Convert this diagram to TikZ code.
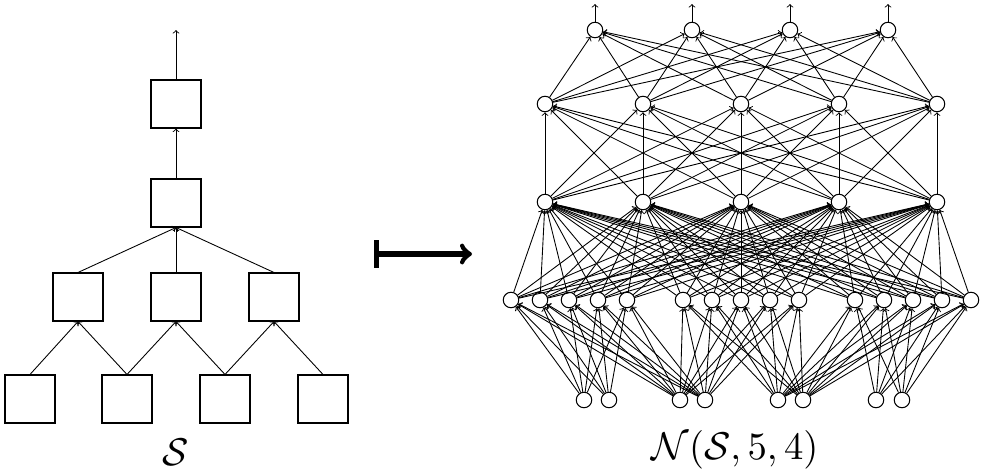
\documentclass[tikz,border=0pt]{standalone}
\usepackage{graphicx}
\begin{document}
\begin{tikzpicture}[x=0.02cm,y=-0.02cm,
  box/.style={draw,minimum width=1cm,minimum height=0.96cm,inner sep=0,line width=0.6pt},
  neu/.style={draw,circle,minimum size=0.31cm,inner sep=0,line width=0.6pt},
  edge/.style={->,>=to,line width=0.5pt},
  lab/.style={inner sep=0}]
\useasboundingbox (0,0) rectangle (988,470);
% left tree
\foreach \i/\x in {1/30,2/127,3/225,4/323} \node[box] (b\i) at (\x,399) {};
\foreach \i/\x in {1/78,2/176,3/274} \node[box] (m\i) at (\x,297) {};
\node[box] (u) at (176,203) {};
\node[box] (t) at (176,104) {};
\coordinate (tout) at (176,30);
\foreach \i/\a/\b in {1/1/2,2/2/3,3/3/4} {
  \draw[edge] (b\a.north) -- (m\i.south);
  \draw[edge] (b\b.north) -- (m\i.south);
  \draw[edge] (m\i.north) -- (u.south);
}
\draw[edge] (u) -- (t);
\draw[edge] (t) -- (tout);
\node[lab] (sl) at (176,452) {\scalebox{2.2}{$\mathcal{S}$}};
% mapsto
\coordinate (ma) at (374,254); \coordinate (mb) at (472,254);
\draw[line width=3pt,|->,>=to] (ma) -- (mb);
% network
\foreach \i/\x in {1/584,2/609,3/680,4/705,5/778,6/803,7/876,8/902} \node[neu] (i\i) at (\x,400) {};
\foreach \g/\x in {0/511,1/683,2/855} \foreach \k in {0,...,4}
  \node[neu] (h\g\k) at ({\x+29*\k},300) {};
\foreach \k/\x in {0/545,1/643,2/741,3/839,4/937} {
  \node[neu] (p\k) at (\x,202) {};
  \node[neu] (q\k) at (\x,104) {};
}
\foreach \k/\x in {0/595,1/692,2/790,3/888} {
  \node[neu] (o\k) at (\x,30) {};
  \coordinate (oo\k) at (\x,4);
  \draw[edge] (o\k) -- (oo\k);
}
\foreach \g in {0,1,2} \foreach \k in {0,...,4} {
  \pgfmathtruncatemacro\s{2*\g+1}
  \foreach \d in {0,...,3} {
    \pgfmathtruncatemacro\j{\s+\d}
    \draw[edge] (i\j) -- (h\g\k);
  }
  \foreach \m in {0,...,4} \draw[edge] (h\g\k) -- (p\m);
}
\foreach \a in {0,...,4} \foreach \b in {0,...,4} \draw[edge] (p\a) -- (q\b);
\foreach \a in {0,...,4} \foreach \b in {0,...,3} \draw[edge] (q\a) -- (o\b);
\node[lab] (nl) at (735,450) {\scalebox{2.2}{$\mathcal{N}(\mathcal{S},5,4)$}};
\end{tikzpicture}
\end{document}
